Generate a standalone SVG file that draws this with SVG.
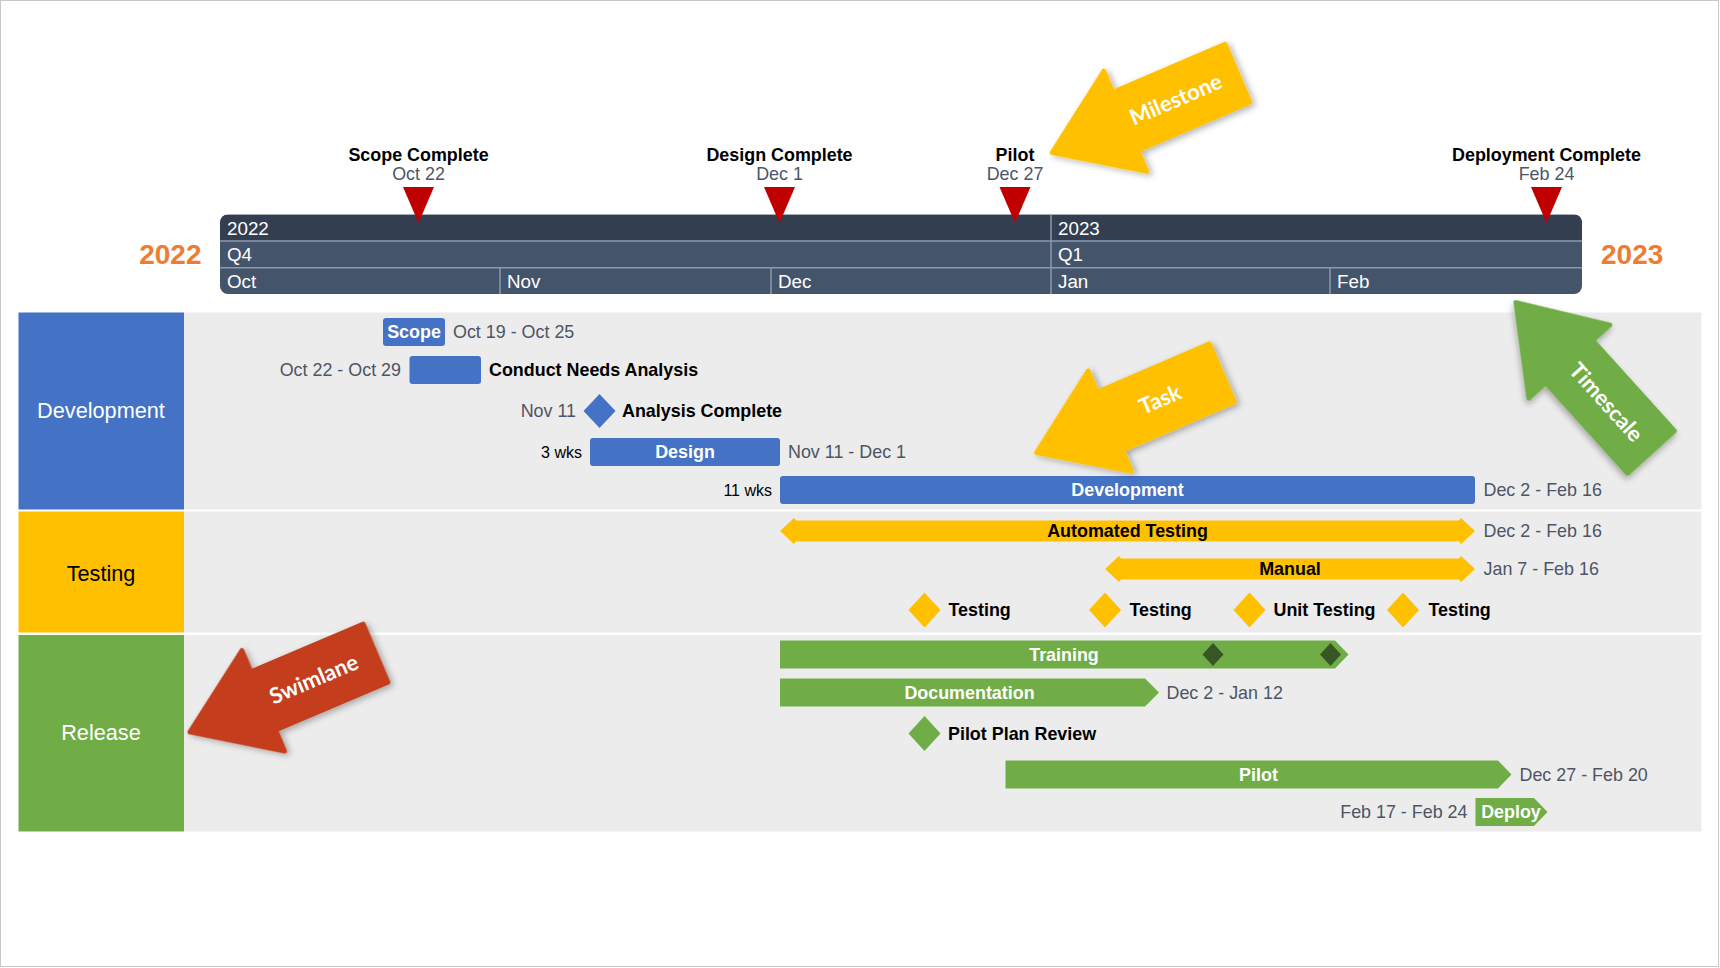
<svg xmlns="http://www.w3.org/2000/svg" xmlns:xlink="http://www.w3.org/1999/xlink" width="1720" height="968" viewBox="0 0 1720 968">
<style>
text{font-family:"Liberation Sans",Arial,sans-serif}
.ms{font-size:17.9px;font-weight:bold;fill:#000;text-anchor:middle}
.msd{font-size:17.9px;fill:#4d5566;text-anchor:middle}
.tri{fill:#c00000}
.cell{font-size:18.8px;fill:#fff}
.yr{font-size:28px;font-weight:bold;fill:#ed7d31}
.lane{font-size:21.7px;text-anchor:middle}
.band{fill:#ececec}
.dt{font-size:17.9px;fill:#4d5566}
.lb{font-size:17.9px;font-weight:bold;fill:#000}
.wl{font-size:17.9px;font-weight:bold;fill:#fff;text-anchor:middle}
.bl{font-size:17.9px;font-weight:bold;fill:#000;text-anchor:middle}
.wk{font-size:16px;fill:#000;text-anchor:end}
.blue{fill:#4472c4}.yel{fill:#ffc000}.grn{fill:#70ad47}.dg{fill:#375623}
.end{text-anchor:end}
.tl{stroke:#8c9ab0;stroke-width:1.5}
.ann{font-family:Lato,"Open Sans",sans-serif;font-size:22px;font-weight:bold;fill:#fff;text-anchor:middle}
.arr{stroke-width:5;stroke-linejoin:round;filter:url(#sh)}
</style>
<defs>
<filter id="sh" x="-20%" y="-30%" width="150%" height="170%">
<feDropShadow dx="2" dy="3" stdDeviation="3" flood-color="#000" flood-opacity="0.3"/>
</filter>
<path id="bigArrow" d="M3.5,0 L83,-54.5 L83,-31.5 L205,-31.5 L205,31.5 L83,31.5 L83,54.5 Z"/>
<clipPath id="tlclip"><rect x="220" y="214.5" width="1362" height="79.5" rx="8"/></clipPath>
</defs>

<rect x="0.5" y="0.5" width="1718" height="966" fill="#fff" stroke="#c8c8c8"/>

<!-- Timescale -->
<g id="timescale">
<g clip-path="url(#tlclip)">
<rect x="220" y="214.5" width="1362" height="79.5" fill="#44546a"/>
<rect x="220" y="214.5" width="1362" height="26.5" fill="#333f50"/>
</g>
<line class="tl" x1="220" y1="241" x2="1582" y2="241"/>
<line class="tl" x1="220" y1="267.7" x2="1582" y2="267.7"/>
<line class="tl" x1="1051" y1="214.5" x2="1051" y2="294"/>
<line class="tl" x1="500" y1="267.7" x2="500" y2="294"/>
<line class="tl" x1="771" y1="267.7" x2="771" y2="294"/>
<line class="tl" x1="1330" y1="267.7" x2="1330" y2="294"/>
<text class="cell" x="227" y="234.5">2022</text>
<text class="cell" x="1058" y="234.5">2023</text>
<text class="cell" x="227" y="261">Q4</text>
<text class="cell" x="1058" y="261">Q1</text>
<text class="cell" x="227" y="288">Oct</text>
<text class="cell" x="507" y="288">Nov</text>
<text class="cell" x="778" y="288">Dec</text>
<text class="cell" x="1058" y="288">Jan</text>
<text class="cell" x="1337" y="288">Feb</text>
<text class="yr" x="201.5" y="264" text-anchor="end">2022</text>
<text class="yr" x="1601" y="264">2023</text>
</g>

<!-- Milestones on timescale -->
<g id="ms-scope">
<polygon class="tri" points="403,187 434,187 418.5,223"/>
<text class="ms" x="418.5" y="160.5">Scope Complete</text>
<text class="msd" x="418.5" y="180">Oct 22</text>
</g>
<g id="ms-design">
<polygon class="tri" points="764,187 795,187 779.5,223"/>
<text class="ms" x="779.5" y="160.5">Design Complete</text>
<text class="msd" x="779.5" y="180">Dec 1</text>
</g>
<g id="ms-pilot">
<polygon class="tri" points="999.5,187 1030.5,187 1015,223"/>
<text class="ms" x="1015" y="160.5">Pilot</text>
<text class="msd" x="1015" y="180">Dec 27</text>
</g>
<g id="ms-deploy">
<polygon class="tri" points="1531,187 1562,187 1546.5,223"/>
<text class="ms" x="1546.5" y="160.5">Deployment Complete</text>
<text class="msd" x="1546.5" y="180">Feb 24</text>
</g>

<!-- Swimlanes -->
<g id="lane-development">
<rect class="band" x="184" y="312.5" width="1517.5" height="197"/>
<rect class="blue" x="18.5" y="312.5" width="165.5" height="197"/>
<text class="lane" x="101" y="418" fill="#fff">Development</text>
</g>
<g id="lane-testing">
<rect class="band" x="184" y="511.5" width="1517.5" height="121"/>
<rect class="yel" x="18.5" y="511.5" width="165.5" height="121"/>
<text class="lane" x="101" y="581" fill="#000">Testing</text>
</g>
<g id="lane-release">
<rect class="band" x="184" y="635" width="1517.5" height="196.5"/>
<rect class="grn" x="18.5" y="635" width="165.5" height="196.5"/>
<text class="lane" x="101" y="740" fill="#fff">Release</text>
</g>

<!-- Development tasks -->
<g id="task-scope">
<rect class="blue" x="383" y="318" width="62" height="28" rx="3"/>
<text class="wl" x="414" y="338">Scope</text>
<text class="dt" x="453" y="338">Oct 19 - Oct 25</text>
</g>
<g id="task-needs">
<rect class="blue" x="409.5" y="356" width="71.5" height="28" rx="3"/>
<text class="dt end" x="401" y="376">Oct 22 - Oct 29</text>
<text class="lb" x="489" y="376">Conduct Needs Analysis</text>
</g>
<g id="ms-analysis">
<polygon class="blue" points="599.5,394 615.5,411 599.5,428 583.5,411"/>
<text class="dt end" x="576" y="417">Nov 11</text>
<text class="lb" x="622" y="417">Analysis Complete</text>
</g>
<g id="task-design">
<rect class="blue" x="590" y="438" width="190" height="28" rx="3"/>
<text class="wl" x="685" y="458">Design</text>
<text class="wk" x="582" y="458">3 wks</text>
<text class="dt" x="788" y="458">Nov 11 - Dec 1</text>
</g>
<g id="task-development">
<rect class="blue" x="780" y="476" width="695" height="28" rx="3"/>
<text class="wl" x="1127.5" y="496">Development</text>
<text class="wk" x="772" y="496">11 wks</text>
<text class="dt" x="1483.5" y="496">Dec 2 - Feb 16</text>
</g>

<!-- Testing tasks -->
<g id="task-automated">
<polygon class="yel" points="780,531 794,518 796,520.5 1459,520.5 1461,518 1475,531 1461,544 1459,541.5 796,541.5 794,544"/>
<text class="bl" x="1127.5" y="537">Automated Testing</text>
<text class="dt" x="1483.5" y="537">Dec 2 - Feb 16</text>
</g>
<g id="task-manual">
<polygon class="yel" points="1105,569 1119,556 1121,558.5 1459,558.5 1461,556 1475,569 1461,582 1459,579.5 1121,579.5 1119,582"/>
<text class="bl" x="1290" y="575">Manual</text>
<text class="dt" x="1483.5" y="575">Jan 7 - Feb 16</text>
</g>
<g id="ms-testing-1">
<polygon class="yel" points="924.5,592.5 940.5,610 924.5,627.5 908.5,610"/>
<text class="lb" x="948.5" y="616">Testing</text>
</g>
<g id="ms-testing-2">
<polygon class="yel" points="1105,592.5 1121,610 1105,627.5 1089,610"/>
<text class="lb" x="1129.5" y="616">Testing</text>
</g>
<g id="ms-unit-testing">
<polygon class="yel" points="1249.5,592.5 1265.5,610 1249.5,627.5 1233.5,610"/>
<text class="lb" x="1273.5" y="616">Unit Testing</text>
</g>
<g id="ms-testing-3">
<polygon class="yel" points="1403,592.5 1419,610 1403,627.5 1387,610"/>
<text class="lb" x="1428.5" y="616">Testing</text>
</g>

<!-- Release tasks -->
<g id="task-training">
<polygon class="grn" points="780,640.5 1335,640.5 1348.5,654.5 1335,668.5 780,668.5"/>
<text class="wl" x="1064" y="660.5">Training</text>
<polygon class="dg" points="1213,643 1223.5,654.5 1213,666 1202.5,654.5"/>
<polygon class="dg" points="1330.5,643 1341,654.5 1330.5,666 1320,654.5"/>
</g>
<g id="task-documentation">
<polygon class="grn" points="780,678.5 1145,678.5 1159,692.5 1145,706.5 780,706.5"/>
<text class="wl" x="969.5" y="698.5">Documentation</text>
<text class="dt" x="1166.5" y="698.5">Dec 2 - Jan 12</text>
</g>
<g id="ms-pilot-plan">
<polygon class="grn" points="924.5,716 940.5,733.5 924.5,751 908.5,733.5"/>
<text class="lb" x="948" y="739.5">Pilot Plan Review</text>
</g>
<g id="task-pilot">
<polygon class="grn" points="1005.5,760.5 1498,760.5 1511.5,774.5 1498,788.5 1005.5,788.5"/>
<text class="wl" x="1258.5" y="780.5">Pilot</text>
<text class="dt" x="1519.5" y="780.5">Dec 27 - Feb 20</text>
</g>
<g id="task-deploy">
<polygon class="grn" points="1475.5,798 1534,798 1547.5,812 1534,826 1475.5,826"/>
<text class="wl" x="1511" y="818">Deploy</text>
<text class="dt end" x="1467.5" y="818">Feb 17 - Feb 24</text>
</g>

<!-- Annotation callout arrows -->
<g id="callouts">
<g id="callout-milestone" transform="translate(1049,154) rotate(-23.2)">
<use xlink:href="#bigArrow" href="#bigArrow" class="arr" fill="#ffc000" stroke="#ffc000"/>
<text class="ann" x="138" y="7.5">Milestone</text>
</g>
<g id="callout-task" transform="translate(1033.5,454) rotate(-23.3)">
<use xlink:href="#bigArrow" href="#bigArrow" class="arr" fill="#ffc000" stroke="#ffc000"/>
<text class="ann" x="138" y="7.5">Task</text>
</g>
<g id="callout-timescale" transform="translate(1513.6,300) rotate(47.9)">
<use xlink:href="#bigArrow" href="#bigArrow" class="arr" fill="#70ad47" stroke="#70ad47"/>
<text class="ann" x="138" y="7.5">Timescale</text>
</g>
<g id="callout-swimlane" transform="translate(186.8,733.3) rotate(-23)">
<use xlink:href="#bigArrow" href="#bigArrow" class="arr" fill="#c43e1c" stroke="#c43e1c"/>
<text class="ann" x="138" y="7.5">Swimlane</text>
</g>
</g>
</svg>
